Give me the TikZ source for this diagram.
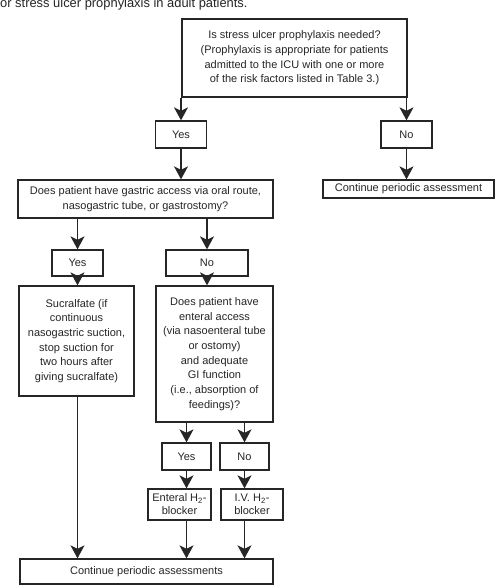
\documentclass[tikz,border=0pt]{standalone}
\usepackage{fontspec}
\setmainfont{Liberation Sans}
\usetikzlibrary{arrows.meta}
\begin{document}
\begin{tikzpicture}[x=1pt,y=-1pt,
  box/.style={draw=black!85,line width=1.3pt,inner sep=0pt,align=center,
    font=\fontsize{11}{14.7}\selectfont,text=black!85},
  conn/.style={draw=black!85,line width=1.3pt,
    -{Stealth[length=13pt,width=14pt,inset=3.5pt]}}]
\useasboundingbox (0,0) rectangle (500,585);
\fill[white] (0,0) rectangle (500,585);
\node[anchor=base west,font=\fontsize{12.9}{15}\selectfont,text=black!85,inner sep=0pt] (hdr) at (0,7.5) {or stress ulcer prophylaxis in adult patients.};
\node[box,minimum width=225pt,minimum height=78pt] (top) at (294.5,58) {Is stress ulcer prophylaxis needed?\\(Prophylaxis is appropriate for patients\\admitted to the ICU with one or more\\of the risk factors listed in Table 3.)};
\node[box,minimum width=51pt,minimum height=27pt] (yes1) at (181,134.5) {Yes};
\node[box,minimum width=51pt,minimum height=27pt] (no1) at (406.5,134.5) {No};
\node[box,minimum width=255pt,minimum height=38pt] (q2) at (145.5,199) {Does patient have gastric access via oral route,\\nasogastric tube, or gastrostomy?};
\node[box,minimum width=171pt,minimum height=18pt] (cont1) at (408.5,189) {Continue periodic assessment};
\node[box,minimum width=51pt,minimum height=26pt] (yes2) at (77.5,263) {Yes};
\node[box,minimum width=82pt,minimum height=26pt] (no2) at (207,263) {No};
\node[box,minimum width=115pt,minimum height=110pt] (suc) at (76.5,341) {Sucralfate (if\\continuous\\nasogastric suction,\\stop suction for\\two hours after\\giving sucralfate)};
\node[box,minimum width=117pt,minimum height=136pt] (ent) at (214.5,354) {Does patient have\\enteral access\\(via nasoenteral tube\\or ostomy)\\and adequate\\GI function\\(i.e., absorption of\\feedings)?};
\node[box,minimum width=49pt,minimum height=27pt] (yes3) at (186.5,456.5) {Yes};
\node[box,minimum width=49pt,minimum height=27pt] (no3) at (244.5,456.5) {No};
\node[box,minimum width=63pt,minimum height=31pt,font=\fontsize{11}{13}\selectfont] (eh2) at (179.5,504.5) {Enteral H\textsubscript{2}-\\blocker};
\node[box,minimum width=62pt,minimum height=31pt,font=\fontsize{11}{13}\selectfont] (ivh2) at (252,504.5) {I.V. H\textsubscript{2}-\\blocker};
\node[box,minimum width=253pt,minimum height=25pt] (fin) at (146.5,571.5) {Continue periodic assessments};
% connectors
\draw[conn] (top.south west -| yes1) -- (yes1.north);
\draw[conn] (top.south east -| no1) -- (no1.north);
\draw[conn] (yes1.south) -- (yes1.south |- q2.north);
\draw[conn] (no1.south) -- (no1.south |- cont1.north);
\draw[conn] (q2.south -| yes2) -- (yes2.north);
\draw[conn] (q2.south -| no2) -- (no2.north);
\draw[conn] (yes2.south) -- (yes2.south |- suc.north);
\draw[conn] (no2.south) -- (no2.south |- ent.north);
\draw[conn] (ent.south -| yes3) -- (yes3.north);
\draw[conn] (ent.south -| no3) -- (no3.north);
\draw[conn] (yes3.south) -- (yes3.south |- eh2.north);
\draw[conn] (no3.south) -- (no3.south |- ivh2.north);
\draw[conn] (eh2.south -| yes3) -- (fin.north -| yes3);
\draw[conn] (ivh2.south -| no3) -- (fin.north -| no3);
\draw[conn] (suc.south -| yes2) -- (fin.north -| yes2);
\end{tikzpicture}
\end{document}
